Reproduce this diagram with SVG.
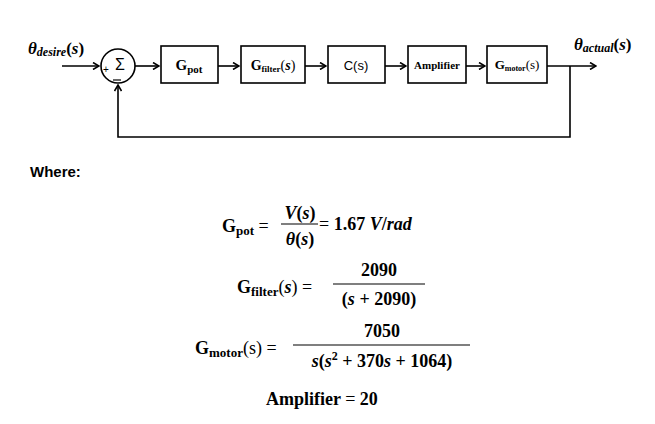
<svg xmlns="http://www.w3.org/2000/svg" width="655" height="424" viewBox="0 0 655 424">
<defs><marker id="a" markerWidth="8" markerHeight="8" refX="7" refY="4" orient="auto" markerUnits="userSpaceOnUse"><path d="M1,0.5 L7,4 L1,7.5" fill="none" stroke="#000" stroke-width="1.6"/></marker></defs>
<style>
.b{fill:#fff;stroke:#000;stroke-width:1.6}
.l{fill:none;stroke:#000;stroke-width:1.6}
.t{font-family:"Liberation Serif",serif;font-weight:bold;fill:#000}
.s{font-family:"Liberation Sans",sans-serif;fill:#000}
.i{font-style:italic}
</style>
<rect width="655" height="424" fill="#fff"/>
<g id="connectors">
<path class="l" d="M62,66 H99" marker-end="url(#a)"/>
<path class="l" d="M135,66 H159" marker-end="url(#a)"/>
<path class="l" d="M218,66 H239" marker-end="url(#a)"/>
<path class="l" d="M305,66 H326" marker-end="url(#a)"/>
<path class="l" d="M385,66 H406" marker-end="url(#a)"/>
<path class="l" d="M466,66 H485" marker-end="url(#a)"/>
<path class="l" d="M547,66 H596" marker-end="url(#a)"/>
<path class="l" d="M570,66 V137 H118 V85" marker-end="url(#a)"/>
</g>
<g id="sum"><circle class="b" cx="118" cy="66" r="17"/>
<text class="s" x="120" y="70" font-size="16" text-anchor="middle">Σ</text>
<text class="s" x="103" y="73" font-size="10">+</text>
<path d="M113,80 H121" stroke="#000" stroke-width="1.2"/></g>
<g id="gpot"><rect class="b" x="161" y="46" width="57" height="37"/><text class="t" x="189" y="70" font-size="15" text-anchor="middle">G<tspan font-size="11" dy="3">pot</tspan></text></g>
<g id="gfilter"><rect class="b" x="241" y="46" width="64" height="37"/><text class="t" x="273" y="70" font-size="14" text-anchor="middle">G<tspan font-size="9" dy="2">filter</tspan><tspan dy="-2" font-weight="normal">(</tspan><tspan class="i">s</tspan><tspan font-weight="normal">)</tspan></text></g>
<g id="cs"><rect class="b" x="328" y="46" width="57" height="37"/><text class="s" x="356" y="70" font-size="13" text-anchor="middle">C(s)</text></g>
<g id="amp"><rect class="b" x="408" y="46" width="58" height="37"/><text class="t" x="437" y="69" font-size="11" text-anchor="middle">Amplifier</text></g>
<g id="gmotor"><rect class="b" x="487" y="46" width="60" height="37"/><text class="t" x="517" y="69" font-size="13" text-anchor="middle">G<tspan font-size="8" dy="2">motor</tspan><tspan dy="-2" font-weight="normal">(s)</tspan></text></g>
<text class="t i" x="28" y="54" font-size="17">θ<tspan font-size="12" dy="2">desire</tspan><tspan dy="-2" font-style="normal">(</tspan>s<tspan font-style="normal">)</tspan></text>
<text class="t i" x="574" y="50" font-size="17">θ<tspan font-size="12" dy="2">actual</tspan><tspan dy="-2" font-style="normal">(</tspan>s<tspan font-style="normal">)</tspan></text>
<text class="s" x="30" y="177" font-size="15" font-weight="bold">Where:</text>
<g class="t" font-size="18">
<text x="222" y="232">G<tspan font-size="13" dy="3">pot</tspan><tspan dy="-3" font-weight="normal"> =</tspan></text>
<text x="300" y="219" text-anchor="middle"><tspan class="i">V</tspan>(<tspan class="i">s</tspan>)</text>
<line x1="281" y1="224" x2="318" y2="224" stroke="#000" stroke-width="1.2"/>
<text x="300" y="245" text-anchor="middle"><tspan class="i">θ</tspan>(<tspan class="i">s</tspan>)</text>
<text x="319" y="230"><tspan font-weight="normal">= </tspan>1.67 <tspan class="i">V</tspan>/<tspan class="i">rad</tspan></text>
<text x="237" y="293">G<tspan font-size="13" dy="3">filter</tspan><tspan dy="-3" font-weight="normal">(</tspan><tspan class="i">s</tspan><tspan font-weight="normal">) =</tspan></text>
<text x="379" y="276" text-anchor="middle">2090</text>
<line x1="333" y1="284" x2="425" y2="284" stroke="#000" stroke-width="1.2"/>
<text x="379" y="305" text-anchor="middle">(<tspan class="i">s</tspan> + 2090)</text>
<text x="195" y="354">G<tspan font-size="13" dy="3">motor</tspan><tspan dy="-3" font-weight="normal">(s) =</tspan></text>
<text x="382" y="337" text-anchor="middle">7050</text>
<line x1="293" y1="345" x2="470" y2="345" stroke="#000" stroke-width="1.2"/>
<text x="382" y="367" text-anchor="middle"><tspan class="i">s</tspan>(<tspan class="i">s</tspan><tspan font-size="12" dy="-7">2</tspan><tspan dy="7"> + 370</tspan><tspan class="i">s</tspan> + 1064)</text>
<text x="266" y="405">Amplifier <tspan font-weight="normal">=</tspan> 20</text>
</g>
</svg>
